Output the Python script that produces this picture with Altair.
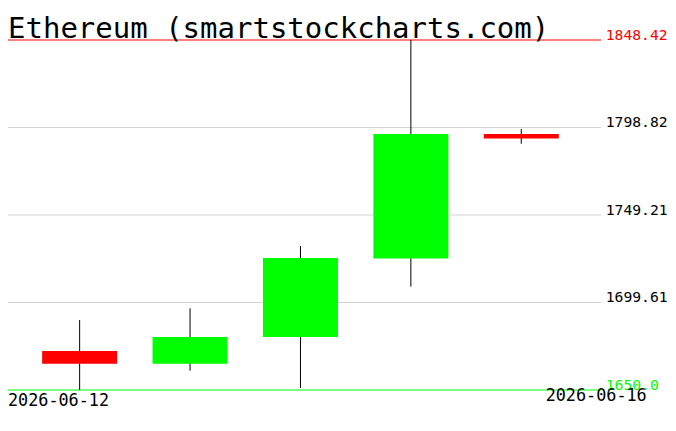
import altair as alt
import pandas as pd

# ---- data ----
dates = ["2026-06-12", "2026-06-13", "2026-06-14", "2026-06-15", "2026-06-16"]
opens = [1672.1, 1664.9, 1680.0, 1724.6, 1795.1]
highs = [1689.7, 1696.3, 1731.6, 1848.42, 1798.0]
lows = [1650.0, 1660.9, 1651.1, 1708.6, 1789.6]
closes = [1664.9, 1680.0, 1724.8, 1795.1, 1792.6]

level_values = [1848.42, 1798.82, 1749.21, 1699.61, 1650.0]
level_labels = ["1848.42", "1798.82", "1749.21", "1699.61", "1650.0"]
level_colors = ["#ff0000", "#d3d3d3", "#d3d3d3", "#d3d3d3", "#00ff00"]
label_colors = ["#ff0000", "#000000", "#000000", "#000000", "#00ff00"]

title_text = "Ethereum (smartstockcharts.com)"

candles = pd.DataFrame({
    "idx": list(range(len(dates))),
    "date": dates,
    "open": opens,
    "high": highs,
    "low": lows,
    "close": closes,
})
candles["col"] = ["#00ff00" if c > o else "#ff0000" for o, c in zip(opens, closes)]

levels = pd.DataFrame({
    "v": level_values,
    "label": level_labels,
    "lc": level_colors,
    "tc": label_colors,
})

W, H = 593, 350
FONT = "DejaVu Sans Mono"

xs = alt.Scale(domain=[-0.6037, 4.6768], nice=False, zero=False)
ys = alt.Scale(domain=[1650.0, 1848.42], nice=False, zero=False)

grid = alt.Chart(levels).mark_rule(strokeWidth=1).encode(
    y=alt.Y("v:Q", scale=ys, axis=None),
    color=alt.Color("lc:N", scale=None),
)

ylabels = alt.Chart(levels).mark_text(
    align="left", baseline="alphabetic", font=FONT, fontSize=14.7
).encode(
    y=alt.Y("v:Q", scale=ys, axis=None),
    x=alt.value(597.7),
    text="label:N",
    color=alt.Color("tc:N", scale=None),
)

wicks = alt.Chart(candles).mark_rule(color="black", strokeWidth=1).encode(
    x=alt.X("idx:Q", scale=xs, axis=None),
    y=alt.Y("low:Q", scale=ys, axis=None),
    y2="high:Q",
)

bodies = alt.Chart(candles).mark_bar(size=75).encode(
    x=alt.X("idx:Q", scale=xs, axis=None),
    y=alt.Y("open:Q", scale=ys, axis=None),
    y2="close:Q",
    color=alt.Color("col:N", scale=None),
)

first_label = alt.Chart(pd.DataFrame({"t": [dates[0]]})).mark_text(
    align="left", baseline="alphabetic", font=FONT, fontSize=16.8, color="black"
).encode(x=alt.value(0), y=alt.value(366), text="t:N")

last_label = alt.Chart(pd.DataFrame({"t": [dates[-1]]})).mark_text(
    align="right", baseline="alphabetic", font=FONT, fontSize=16.8, color="black"
).encode(x=alt.value(638.7), y=alt.value(361), text="t:N")

title = alt.Chart(pd.DataFrame({"t": [title_text]})).mark_text(
    align="left", baseline="alphabetic", font=FONT, fontSize=29, color="black"
).encode(x=alt.value(0), y=alt.value(-2), text="t:N")

chart = alt.layer(
    grid, wicks, bodies, ylabels, first_label, last_label, title
).properties(
    width=W,
    height=H,
    autosize=alt.AutoSizeParams(type="none"),
    padding={"top": 32, "left": 0, "right": 67, "bottom": 30},
).configure_view(strokeOpacity=0)

chart.save("out.html", embed_options={"renderer": "svg", "actions": False})
